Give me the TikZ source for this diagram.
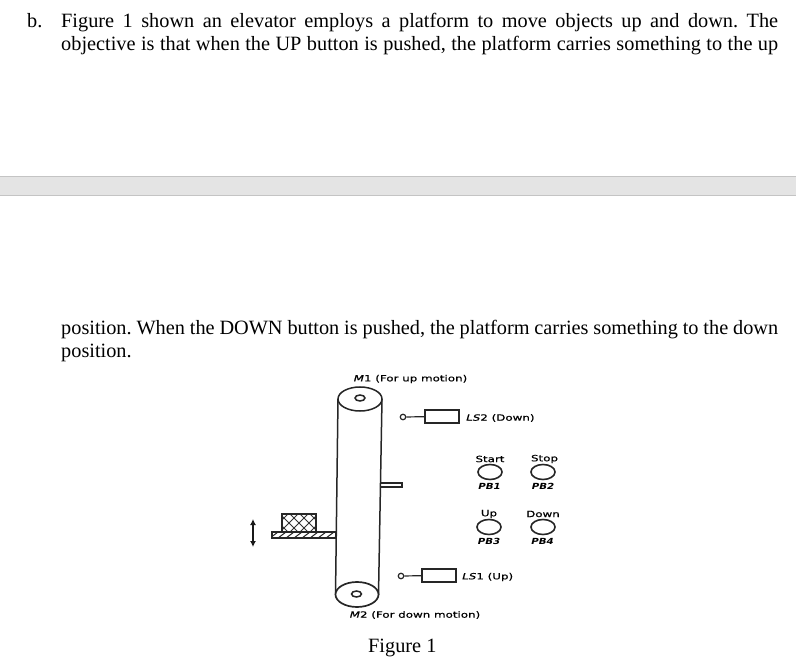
\documentclass[tikz,border=0pt]{standalone}
\usepackage{fontspec}
\setmainfont{Liberation Serif}
\frenchspacing
\newfontfamily\smallsans[FakeStretch=1.38,FakeBold=0.6]{DejaVu Sans}
\newfontfamily\pbsans[FakeStretch=1.22]{DejaVu Sans}
\usetikzlibrary{shapes.geometric,arrows.meta}
\tikzset{
  body/.style={anchor=base west,inner sep=0,font=\fontsize{20.3}{24}\selectfont},
  lab/.style={inner sep=0,font=\smallsans\fontsize{8.6}{10}\selectfont},
  pb/.style={inner sep=0,font=\pbsans\bfseries\itshape\fontsize{8.4}{10}\selectfont},
  stroke/.style={draw=black!85,line width=1.5pt},
  btn/.style={ellipse,draw=black!85,line width=1.6pt,minimum width=24pt,minimum height=15pt,inner sep=0},
  lsbox/.style={draw=black!85,line width=1.4pt,minimum width=34pt,minimum height=13pt,inner sep=0},
  knob/.style={circle,draw=black!85,line width=1.2pt,minimum size=5.5pt,inner sep=0}
}
\begin{document}
\begin{tikzpicture}[x=1pt,y=-1pt]
\useasboundingbox (0,0) rectangle (796,668);
% text
\node[body] (b) at (27,28) {b.};
\node[body] (l1) at (61,28) {\hbox to 717pt{Figure 1 shown an elevator employs a platform to move objects up and down. The}};
\node[body] (l2) at (61,51) {\hbox to 717pt{objective is that when the UP button is pushed, the platform carries something to the up}};
\fill[black!10.5] (0,176) rectangle (796,195.5);
\draw[black!23,line width=1pt] (0,176.5) -- (796,176.5) (0,195.5) -- (796,195.5);
\node[body] (l3) at (61,335) {\hbox to 717pt{position. When the DOWN button is pushed, the platform carries something to the down}};
\node[body] (l4) at (61,358) {position.};
% cylinder
\draw[stroke] (338,399) -- (335.5,595);
\draw[stroke] (382,399) -- (378.5,595);
\node[ellipse,draw=black!85,fill=white,line width=1.5pt,minimum width=44pt,minimum height=24pt,inner sep=0] (top) at (360,399) {};
\node[ellipse,draw=black!85,line width=1.5pt,minimum width=10pt,minimum height=6pt,inner sep=0] (tophole) at (360,398) {};
\node[ellipse,draw=black!85,fill=white,line width=1.7pt,minimum width=43pt,minimum height=25pt,inner sep=0] (bot) at (357,594.5) {};
\node[ellipse,draw=black!85,line width=1.5pt,minimum width=10pt,minimum height=6pt,inner sep=0] (bothole) at (356.5,594) {};
% tab
\draw[black!85,line width=1.2pt] (381,483) -- (402,483) -- (402,487) -- (381,487);
% load box
\begin{scope}
\clip (282,514) rectangle (316,532);
\foreach \i in {-2,...,6}{
  \draw[black!80,line width=1pt] (270+10*\i,514) -- ++(18,18);
  \draw[black!80,line width=1pt] (270+10*\i,532) -- ++(18,-18);
}
\end{scope}
\draw[stroke] (282,532) -- (282,514) -- (316,514) -- (316,532);
% platform
\begin{scope}
\clip (272,532) rectangle (336,538);
\foreach \i in {0,...,8}{\draw[black!85,line width=1pt] (270+8*\i,538) -- ++(8,-6);}
\end{scope}
\draw[stroke] (272,532) rectangle (336,538);
% arrow
\coordinate (au) at (253,519);
\coordinate (ad) at (253,547);
\draw[black!90,line width=1.2pt,{Latex[length=6pt,width=6pt]}-{Latex[length=6pt,width=6pt]}] (au) -- (ad);
% limit switches
\node[lsbox] (ls2) at (442,416.5) {};
\node[knob] (k2) at (403,417) {};
\draw[black!85,line width=1.2pt] (k2) -- (ls2);
\node[lsbox] (ls1) at (439,575.5) {};
\node[knob] (k1) at (401,576) {};
\draw[black!85,line width=1.2pt] (k1) -- (ls1);
% buttons
\node[btn] (b1) at (490,472) {};
\node[btn] (b2) at (543,472) {};
\node[btn] (b3) at (489,527) {};
\node[btn] (b4) at (543,527) {};
% labels
\node[lab] at (410.5,379) {\textit{M}1 (For up motion)};
\node[lab] at (415,615) {\textit{M}2 (For down motion)};
\node[lab,anchor=west] at (466,418) {\textit{LS}2 (Down)};
\node[lab,anchor=west] at (462,577) {\textit{LS}1 (Up)};
\node[lab] at (490,459) {Start};
\node[lab] at (544.5,459) {Stop};
\node[lab] at (489,514) {Up};
\node[lab] at (543,514) {Down};
\node[pb] at (489.5,486) {PB1};
\node[pb] at (543,486) {PB2};
\node[pb] at (489,541) {PB3};
\node[pb] at (542.5,541) {PB4};
\node[body] (fig) at (368,652) {Figure 1};
\end{tikzpicture}
\end{document}
